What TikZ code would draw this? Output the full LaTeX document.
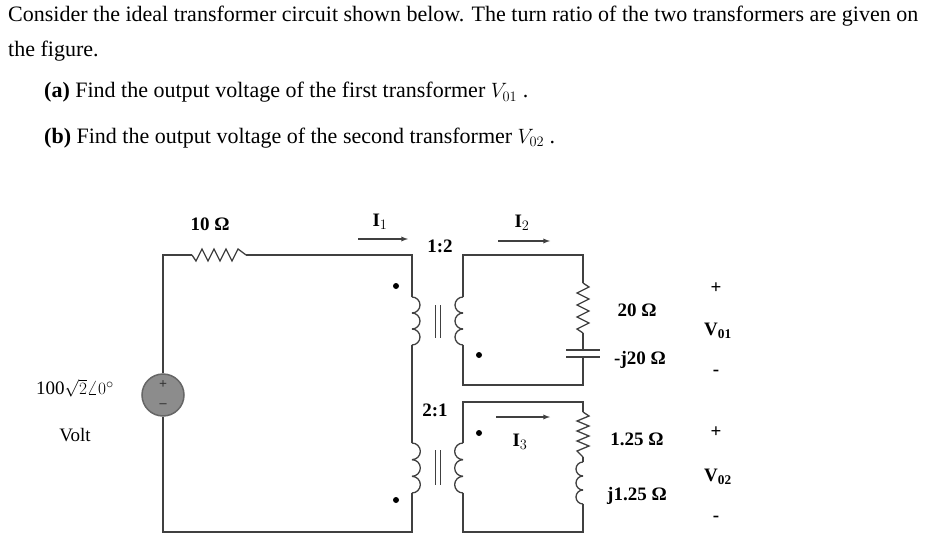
\documentclass[tikz,border=0pt]{standalone}
\usepackage{fontspec}
\setmainfont{Liberation Serif}
\begin{document}
\begin{tikzpicture}[x=1pt,y=-1pt,
  wire/.style={line width=1.3pt,color=black!75},
  lbl/.style={font=\fontsize{19}{22}\selectfont\bfseries,inner sep=0pt},
  txt/.style={font=\fontsize{22}{24}\selectfont,inner sep=0pt,anchor=base west},
  dotm/.style={circle,fill=black,inner sep=0pt,minimum size=6pt},
  srcsign/.style={font=\fontsize{14}{16}\selectfont\bfseries,text=black!80,inner sep=0pt}]
\useasboundingbox (0,0) rectangle (927,543);
\node[txt] (t1) at (8,22) {Consider the ideal transformer circuit shown below. The turn ratio of the two transformers are given on};
\node[txt] (t2) at (8,57) {the figure.};
\node[txt] (t3) at (44,98) {\textbf{(a)} Find the output voltage of the first transformer $V_{01}$ .};
\node[txt] (t4) at (44,143) {\textbf{(b)} Find the output voltage of the second transformer $V_{02}$ .};
\coordinate (tl) at (163,255);
\coordinate (r1a) at (192,255);
\coordinate (r1b) at (246,255);
\coordinate (p1t) at (412,255);
\coordinate (p1a) at (412,297);
\coordinate (p1b) at (412,345);
\coordinate (p2a) at (412,443);
\coordinate (p2b) at (412,493);
\coordinate (bl) at (163,532);
\coordinate (br) at (412,532);
\node[circle,draw=black!60,line width=1.5pt,fill=black!45,minimum size=42pt,inner sep=0pt] (src) at (163,395) {};
\node[srcsign] (splus) at (163,385) {+};
\node[srcsign] (sminus) at (163,406) {–};
\draw[wire] (src.north) -- (tl) -- (r1a);
\draw[wire] (r1a) -- ++(4,6) -- ++(6,-12) -- ++(6,12) -- ++(6,-12) -- ++(6,12) -- ++(6,-12) -- ++(6,12) -- ++(6,-12) -- (r1b);
\draw[wire] (r1b) -- (p1t) -- (p1a);
\draw[wire] (p1b) -- (p2a);
\draw[wire] (p2b) -- (br) -- (bl) -- (src.south);
\foreach \y in {297,313,329}{\draw[wire] (412,\y) arc[start angle=-90,end angle=90,radius=8];}
\foreach \y in {443,459.67,476.33}{\draw[wire] (412,\y) arc[start angle=-90,end angle=90,radius=8.33];}
\foreach \y in {297,313,329}{\draw[wire] (463,\y) arc[start angle=270,end angle=90,radius=8];}
\foreach \y in {443,459.67,476.33}{\draw[wire] (463,\y) arc[start angle=270,end angle=90,radius=8.33];}
\draw[wire,line width=1pt] (435,305) -- (435,338) (440,305) -- (440,338);
\draw[wire,line width=1pt] (435,450) -- (435,485) (440,450) -- (440,485);
\coordinate (s1a) at (463,297);
\coordinate (s1b) at (463,345);
\coordinate (s1t) at (463,255);
\coordinate (s1bl) at (463,385);
\coordinate (l1t) at (583,255);
\coordinate (l1ra) at (583,283);
\coordinate (l1rb) at (583,333);
\coordinate (l1c1) at (583,350);
\coordinate (l1c2) at (583,357);
\coordinate (l1b) at (583,385);
\draw[wire] (s1a) -- (s1t) -- (l1t) -- (l1ra);
\draw[wire] (l1ra) -- ++(6,4) -- ++(-12,6) -- ++(12,6) -- ++(-12,6) -- ++(12,6) -- ++(-12,6) -- ++(12,6) -- ++(-12,6) -- (l1rb);
\draw[wire] (l1rb) -- (l1c1);
\draw[wire] (566,350) -- (600,350) (566,357) -- (600,357);
\draw[wire] (l1c2) -- (l1b) -- (s1bl) -- (s1b);
\coordinate (s2a) at (463,443);
\coordinate (s2b) at (463,493);
\coordinate (s2t) at (463,402);
\coordinate (s2bl) at (463,532);
\coordinate (l2t) at (583,402);
\coordinate (l2ra) at (583,412);
\coordinate (l2rb) at (583,457);
\coordinate (l2b) at (583,532);
\draw[wire] (s2a) -- (s2t) -- (l2t) -- (l2ra);
\draw[wire] (l2ra) -- ++(6,4) -- ++(-12,5) -- ++(12,5) -- ++(-12,5) -- ++(12,5) -- ++(-12,5) -- ++(12,5) -- ++(-12,5) -- (l2rb);
\draw[wire] (l2rb) -- (583,462);
\foreach \y in {462,476,490}{\draw[wire] (583,\y) arc[start angle=270,end angle=90,radius=7];}
\draw[wire] (583,504) -- (l2b) -- (s2bl) -- (s2b);
\node[dotm] (d1) at (396,286) {};
\node[dotm] (d2) at (479,355) {};
\node[dotm] (d3) at (479,433) {};
\node[dotm] (d4) at (396,500) {};
\coordinate (a1s) at (358,239); \coordinate (a1e) at (408,239);
\coordinate (a2s) at (498,241); \coordinate (a2e) at (550,241);
\coordinate (a3s) at (496,417); \coordinate (a3e) at (550,417);
\draw[wire,-latex] (a1s) -- (a1e);
\draw[wire,-latex] (a2s) -- (a2e);
\draw[wire,-latex] (a3s) -- (a3e);
\node[lbl] (L10) at (210,224) {10 Ω};
\node[lbl] (LI1) at (380,222) {I$_1$};
\node[lbl] (LI2) at (522,223) {I$_2$};
\node[lbl] (L12) at (440,246) {1:2};
\node[lbl] (L21) at (435,410) {2:1};
\node[lbl] (LI3) at (520,442) {I$_3$};
\node[lbl] (L20) at (637,310) {20 Ω};
\node[lbl] (Lj20) at (640,360) {-j20 Ω};
\node[lbl] (L125) at (637,439) {1.25 Ω};
\node[lbl] (Lj125) at (637,496) {j1.25 Ω};
\node[lbl] (p1) at (716,288) {+};
\node[lbl] (V1) at (718,331) {V$_{\mathbf{01}}$};
\node[lbl] (m1) at (716,373) {-};
\node[lbl] (p2) at (716,432) {+};
\node[lbl] (V2) at (718,477) {V$_{\mathbf{02}}$};
\node[lbl] (m2) at (716,519) {-};
\node[font=\fontsize{19}{22}\selectfont,inner sep=0pt] (Vs) at (75,388) {100$\sqrt{2}\angle 0^\circ$};
\node[font=\fontsize{19}{22}\selectfont,inner sep=0pt] (Volt) at (75,435) {Volt};
\end{tikzpicture}
\end{document}
